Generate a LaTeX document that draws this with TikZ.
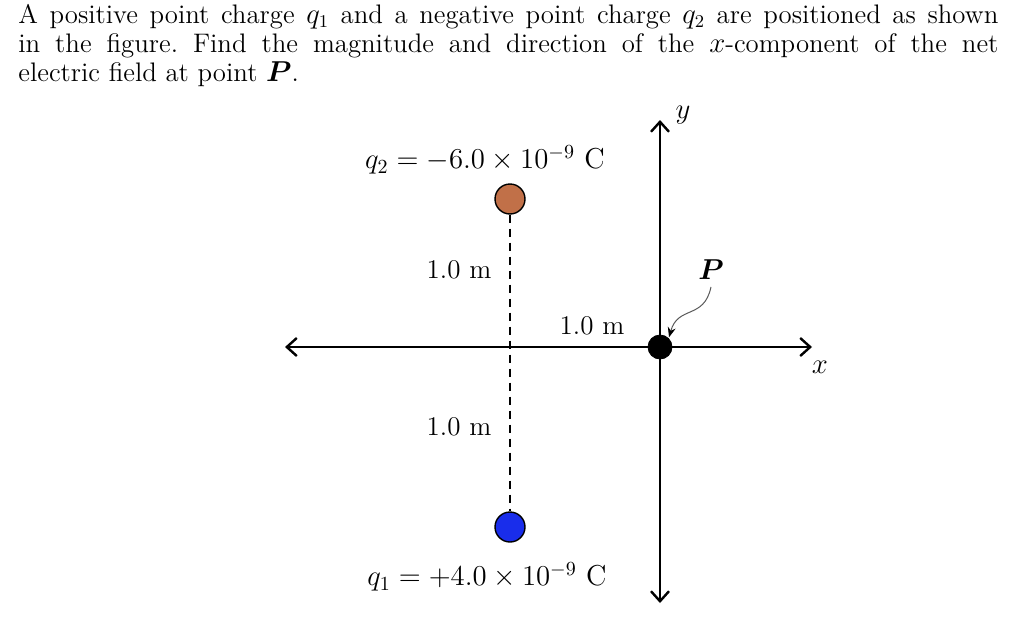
\documentclass[tikz,border=0pt]{standalone}
\usepackage{amsmath}
\usepackage{amssymb}
\usepackage{tikz}
\usetikzlibrary{arrows.meta}

\definecolor{negbrown}{RGB}{193,112,72}
\definecolor{posblue}{RGB}{25,45,235}

\tikzset{
  axis/.style={line width=1.2pt,{Straight Barb[length=5pt,width=9pt]}-{Straight Barb[length=5pt,width=9pt]}},
  charge/.style={circle,draw,line width=0.7pt,minimum size=15pt,inner sep=0pt},
  lbl/.style={font=\fontsize{13.5}{15}\selectfont},
  qlbl/.style={font=\fontsize{14.5}{16}\selectfont}
}

\begin{document}
\begin{tikzpicture}[x=0.5pt,y=-0.5pt]
        \useasboundingbox (0,0) rectangle (1024,632);
        \node [anchor=north west,inner sep=0pt,text width=490pt,align=justify,
               font=\fontsize{13.4}{14.5}\selectfont\frenchspacing] (question) at (18,4)
          {A positive point charge $q_1$ and a negative point charge $q_2$ are positioned as shown\linebreak
           in the figure. Find the magnitude and direction of the $x$-component of the net\linebreak
           electric field at point $\boldsymbol{P}$.};
        % axes
        \coordinate (xleft) at (285,347);
        \coordinate (xright) at (812,347);
        \coordinate (ytop) at (660,120);
        \coordinate (ybottom) at (660,603);
        \draw [axis] (xleft) -- (xright);
        \draw [axis] (ybottom) -- (ytop);
        \node [qlbl] (xlabel) at (820,367) {$x$};
        \node [qlbl] (ylabel) at (683,115) {$y$};
        % charges
        \node [charge,fill=negbrown] (q2) at (510,199) {};
        \node [charge,fill=posblue] (q1) at (510,527) {};
        \draw [line width=0.6pt,dash pattern=on 4pt off 3pt] (q2.south) -- (q1.north);
        \node [qlbl] (q2label) at (485,160) {$q_2 = -6.0 \times 10^{-9}\ \mathrm{C}$};
        \node [qlbl] (q1label) at (487,577) {$q_1 = +4.0 \times 10^{-9}\ \mathrm{C}$};
        \node [lbl] (dupper) at (459,270) {1.0 m};
        \node [lbl] (dlower) at (459,427) {1.0 m};
        \node [lbl] (dright) at (592,326) {1.0 m};
        % point P
        \node [circle,fill=black,draw,minimum size=12pt,inner sep=0pt] (P) at (660,347) {};
        \node [lbl] (plabel) at (711,270) {$\boldsymbol{P}$};
        \draw [gray!70!black,line width=0.5pt,-{Stealth[length=5pt,width=4pt,black]},shorten >=0.5pt]
          (plabel.south) .. controls (704,320) and (678,305) .. (P.north east);
\end{tikzpicture}
\end{document}
